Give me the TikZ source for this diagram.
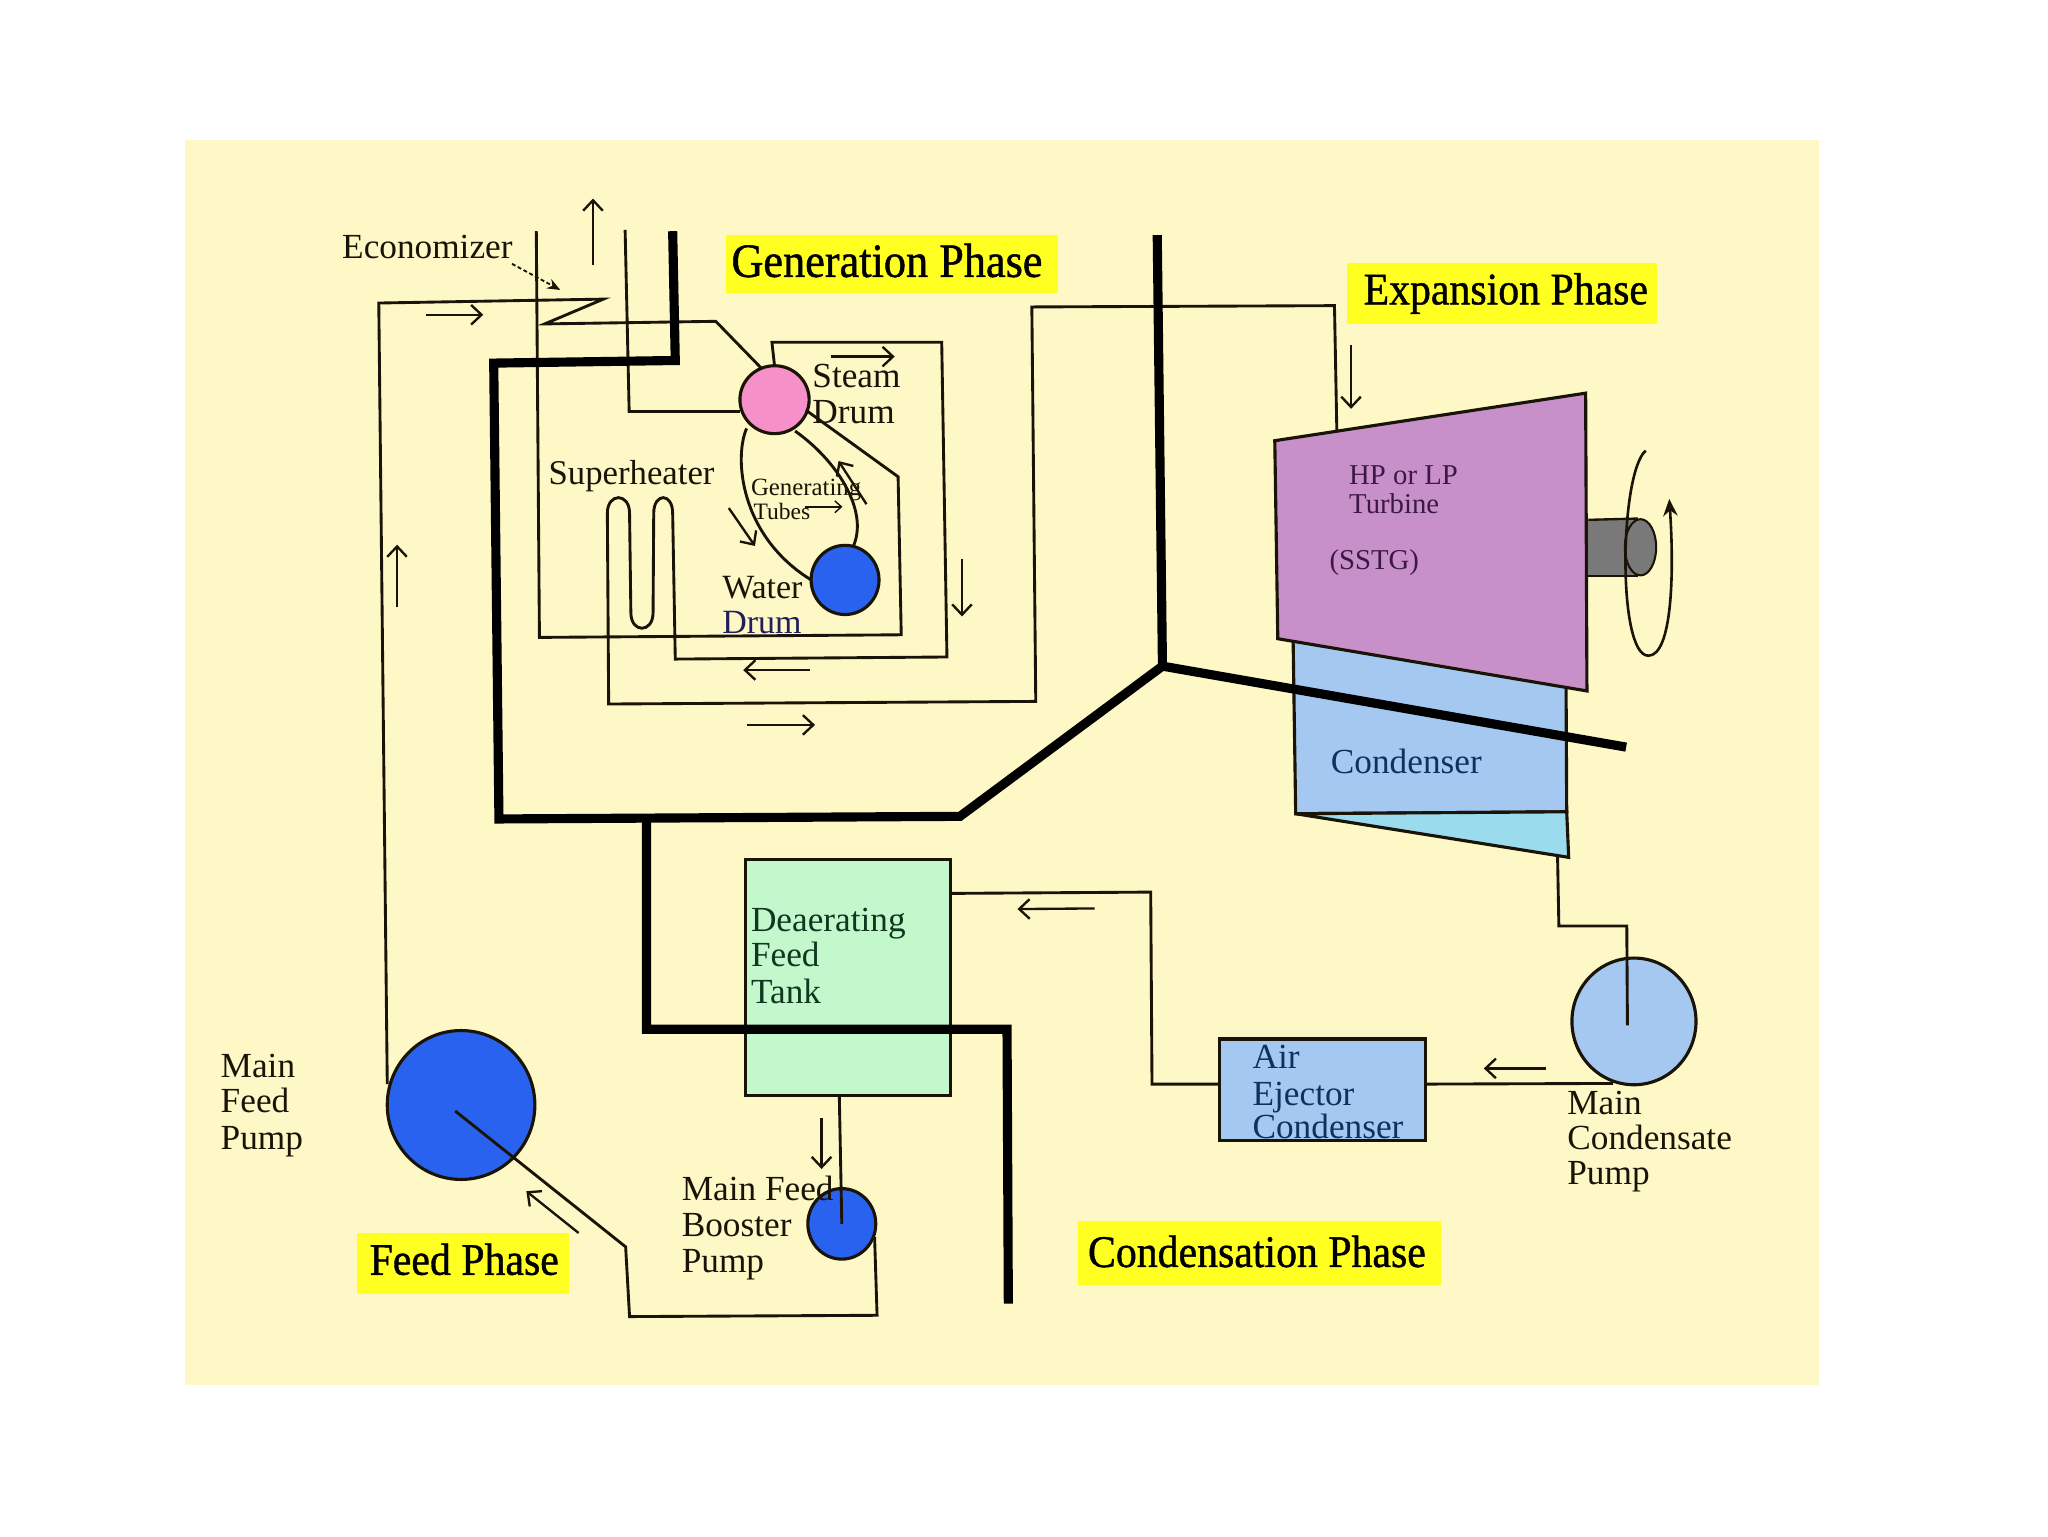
\documentclass[tikz,border=0pt]{standalone}
\usepackage{fontspec}
\setmainfont{Liberation Serif}
\newfontfamily\phasefont{Liberation Serif}[FakeBold=1.0]
\usetikzlibrary{arrows.meta,shapes.geometric}
\definecolor{panel}{HTML}{FEF8C6}
\definecolor{hilite}{HTML}{FFFF22}
\definecolor{pinkdrum}{HTML}{F590C8}
\definecolor{bluepump}{HTML}{2A62F0}
\definecolor{lightblue}{HTML}{A4C8F0}
\definecolor{mauve}{HTML}{C890C8}
\definecolor{tankgreen}{HTML}{C2F8CC}
\definecolor{cyanpart}{HTML}{9ADCEE}
\definecolor{ink}{HTML}{1A1408}
\definecolor{inkpurple}{HTML}{3C1848}
\definecolor{inknavy}{HTML}{103060}
\definecolor{inkgreen}{HTML}{103820}
\definecolor{inkdrum}{HTML}{20205A}
\tikzset{
  pipe/.style={draw=ink,line width=2.2pt,line join=miter},
  wall/.style={draw=black,line width=7pt,line join=miter},
  flow/.style={draw=ink,line width=1.8pt,-{Straight Barb[length=8pt,width=15pt,line width=1.8pt]}},
  unit/.style={draw=ink,line width=2.4pt},
  drum/.style={ellipse,draw=ink,line width=2.4pt,inner sep=0,outer sep=0},
  lab/.style={anchor=base west,inner sep=0,outer sep=0,text=ink,align=left,font=\fontsize{27}{27.5}\selectfont},
  phase/.style={anchor=base west,inner sep=0,outer sep=0,text=black,yscale=1.08},
  hl/.style={fill=hilite,draw=none},
}
\begin{document}
\begin{tikzpicture}[x=1pt,y=-1pt]
\useasboundingbox (0,0) rectangle (1568,1176);
\fill[white] (0,0) rectangle (1568,1176);
\fill[panel] (142,107) rectangle (1393,1060);
% highlights
\fill[hl] (556,180) rectangle (810,224);
\fill[hl] (1031,201) rectangle (1269,248);
\fill[hl] (273,944) rectangle (436,991);
\fill[hl] (825,935) rectangle (1103,984);
% coordinates
\coordinate (wTop) at (515,177);
\coordinate (wA) at (517,276);
\coordinate (wB) at (378,278);
\coordinate (wC) at (382,627);
\coordinate (wD) at (735,625);
\coordinate (wE) at (890,510);
\coordinate (wF) at (886,180);
\coordinate (wG) at (1245,572);
\coordinate (wH) at (495,627);
\coordinate (wI) at (495,788);
\coordinate (wJ) at (771,788);
\coordinate (wK) at (772,998);
% turbine, condenser
\draw[unit,fill=lightblue] (990,488) -- (992,623) -- (1199.5,621.5) -- (1199,525) -- cycle;
\draw[unit,fill=cyanpart] (992,623) -- (1201,656.4) -- (1199.5,621.5) -- cycle;
\draw[unit,fill=mauve] (976,337.4) -- (1214,301) -- (1215,529) -- (978.3,489) -- cycle;
% shaft
\fill[gray!95!black] (1216,398) rectangle (1254,441);
\draw[pipe,line width=1.8pt] (1216,398) -- (1254,397);
\draw[pipe,line width=1.8pt] (1216,441) -- (1254,441);
\node[drum,fill=gray!95!black,line width=1.6pt,minimum width=24pt,minimum height=43pt] (shaftend) at (1256,419) {};
% rotation
\coordinate (rotS) at (1260,345);
\coordinate (rotT) at (1278,382);
\draw[draw=ink,line width=2pt,-{Stealth[length=13pt,width=11pt]}] (rotS) .. controls (1240,362) and (1238,502) .. (1262,502) .. controls (1280,502) and (1282,440) .. (rotT);
% tank, boxes
\node[rectangle,draw=ink,line width=2.4pt,fill=tankgreen,inner sep=0,outer sep=0,minimum width=157pt,minimum height=181pt] (tank) at (649.5,748.5) {};
\node[rectangle,draw=ink,line width=2.4pt,fill=lightblue,inner sep=0,outer sep=0,minimum width=158pt,minimum height=78pt] (aec) at (1012.7,834.5) {};
% drums and pumps
\node[drum,fill=pinkdrum,minimum width=53pt,minimum height=52pt] (sd) at (593,306) {};
\node[drum,fill=bluepump,minimum width=52pt,minimum height=53pt] (wd) at (647,444) {};
\node[drum,fill=bluepump,minimum width=113pt,minimum height=114pt] (mfp) at (353,846) {};
\node[drum,fill=bluepump,minimum width=52pt,minimum height=54pt] (bp) at (644.5,937) {};
\node[drum,fill=lightblue,minimum width=95pt,minimum height=97pt] (mcp) at (1251,782) {};
% economizer loop and furnace box
\draw[pipe] (mfp.west) ++(0,-16) coordinate (mfpT) -- (290,232) -- (462,229) -- (417,248) -- (548,246) -- (583,282);
\draw[pipe] (410.6,177) coordinate (bxT) -- (413,488) -- (690,486) -- (687.6,365) -- (617,314);
\draw[pipe] (478.6,176) coordinate (rsT) -- (481.7,315) -- (sd.west |- 0,315) coordinate (sdL);
% superheater circuit
\draw[pipe] (sd.north) -- (591,262) -- (721,262) -- (725,503) -- (517,504.6) -- (515,393)
  .. controls (515,377) and (500.5,377) .. (500.5,393) -- (500,469)
  .. controls (500,485) and (483,485) .. (483,469) -- (482,393)
  .. controls (482,377) and (465,377) .. (465,393) -- (466,539) -- (793,537) -- (790,235) -- (1021.7,234) -- (1023.5,329.5);
% generating tubes
\draw[pipe] (571.6,328) .. controls (562,350) and (566,410) .. (wd.west);
\draw[pipe] (608.7,330) .. controls (640,352) and (665,390) .. (653.6,417.6);
% feed
\draw[pipe] (348.5,850.6) -- (479,954.6) -- (482,1008) -- (671.5,1007) -- (669.6,947);
\draw[pipe] (642.6,839.5) -- (bp.center);
% condensate
\draw[pipe] (1192.5,656) -- (1193.5,709) -- (1245.5,709) -- (1246,785);
\draw[pipe] (mcp.south) ++(-16,-1) coordinate (mcpB) -- (aec.east |- 0,830);
\draw[pipe] (aec.west |- 0,830) -- (882,830) -- (881,683) -- (tank.east |- 0,684);
% thick walls
\draw[wall] (wTop) -- (wA) -- (wB) -- (wC) -- (wD) -- (wE) -- (wF);
\draw[wall] (wE) -- (wG);
\draw[wall] (wH) -- (wI) -- (wJ) -- (wK);
% flow arrows
\coordinate (a1s) at (304,465); \coordinate (a1e) at (304,417);
\coordinate (a2s) at (454,203); \coordinate (a2e) at (454,152);
\coordinate (a3s) at (326,241); \coordinate (a3e) at (370,241);
\coordinate (a4s) at (636,273); \coordinate (a4e) at (685,273);
\coordinate (a5s) at (736.5,428); \coordinate (a5e) at (736.5,472);
\coordinate (a6s) at (620,513); \coordinate (a6e) at (569,513);
\coordinate (a7s) at (572,555); \coordinate (a7e) at (624,555);
\coordinate (a8s) at (558,389); \coordinate (a8e) at (578,418);
\coordinate (a9s) at (663.4,386); \coordinate (a9e) at (642,353);
\coordinate (a10s) at (616.5,388); \coordinate (a10e) at (645,388);
\coordinate (a11s) at (1034.4,264); \coordinate (a11e) at (1034.4,313);
\coordinate (a12s) at (443,944); \coordinate (a12e) at (403,912);
\coordinate (a13s) at (629,856); \coordinate (a13e) at (629,895);
\coordinate (a14s) at (838,695.5); \coordinate (a14e) at (779,696);
\coordinate (a15s) at (1184,818); \coordinate (a15e) at (1136,818);
\foreach \a in {a1,a2,a3,a4,a5,a6,a7,a8,a9,a11,a12,a13,a14,a15}
  \draw[flow] (\a s) -- (\a e);
\draw[draw=ink,line width=1.1pt,-{Straight Barb[length=5pt,width=9pt,line width=1.1pt]}] (a10s) -- (a10e);
\coordinate (ecoS) at (392,202); \coordinate (ecoE) at (429,222);
\draw[draw=ink,line width=1.4pt,densely dashed,-{Stealth[length=10pt,width=8pt]}] (ecoS) -- (ecoE);
% labels
\node[lab] (lEco) at (262,198) {Economizer};
\node[lab,font=\fontsize{26.6}{27}\selectfont] (lSup) at (420,371) {Superheater};
\node[lab] (lSteam) at (622,297) {Steam};
\node[lab] (lDrum) at (622,324) {Drum};
\node[lab,font=\fontsize{19}{19}\selectfont] (lGen) at (575,379) {Generating};
\node[lab,font=\fontsize{18}{19}\selectfont] (lTub) at (577,398) {Tubes};
\node[lab,font=\fontsize{26}{27}\selectfont] (lWat) at (553,458) {Water};
\node[lab,font=\fontsize{26}{27}\selectfont,text=inkdrum] (lWD) at (553,485) {Drum};
\node[lab,font=\fontsize{22}{22}\selectfont,text=inkpurple] (lHP) at (1033,371) {HP or LP};
\node[lab,font=\fontsize{22}{22}\selectfont,text=inkpurple] (lTu) at (1033,393) {Turbine};
\node[lab,font=\fontsize{22}{22}\selectfont,text=inkpurple] (lSS) at (1018,436) {(SSTG)};
\node[lab,text=inknavy] (lCo) at (1019,592) {Condenser};
\node[lab,text=inkgreen] (lDe) at (575,713) {Deaerating};
\node[lab,text=inkgreen] (lFe) at (575,740) {Feed};
\node[lab,text=inkgreen] (lTa) at (575,768) {Tank};
\node[lab] (lM1) at (169,825) {Main};
\node[lab] (lM2) at (169,852) {Feed};
\node[lab] (lM3) at (169,880) {Pump};
\node[lab] (lB1) at (522,919) {Main Feed};
\node[lab] (lB2) at (522,947) {Booster};
\node[lab] (lB3) at (522,974) {Pump};
\node[lab,text=inknavy] (lA1) at (959,818) {Air};
\node[lab,text=inknavy] (lA2) at (959,846) {Ejector};
\node[lab,text=inknavy] (lA3) at (959,872) {Condenser};
\node[lab] (lC1) at (1200,853) {Main};
\node[lab] (lC2) at (1200,880) {Condensate};
\node[lab] (lC3) at (1200,907) {Pump};
\node[phase,font=\phasefont\fontsize{33.9}{34}\selectfont] (pG) at (560,212) {Generation Phase};
\node[phase,font=\phasefont\fontsize{32}{33}\selectfont] (pE) at (1044,233) {Expansion Phase};
\node[phase,font=\phasefont\fontsize{32}{33}\selectfont] (pF) at (283,976) {Feed Phase};
\node[phase,font=\phasefont\fontsize{32}{33}\selectfont] (pC) at (833,970) {Condensation Phase};
\end{tikzpicture}
\end{document}
